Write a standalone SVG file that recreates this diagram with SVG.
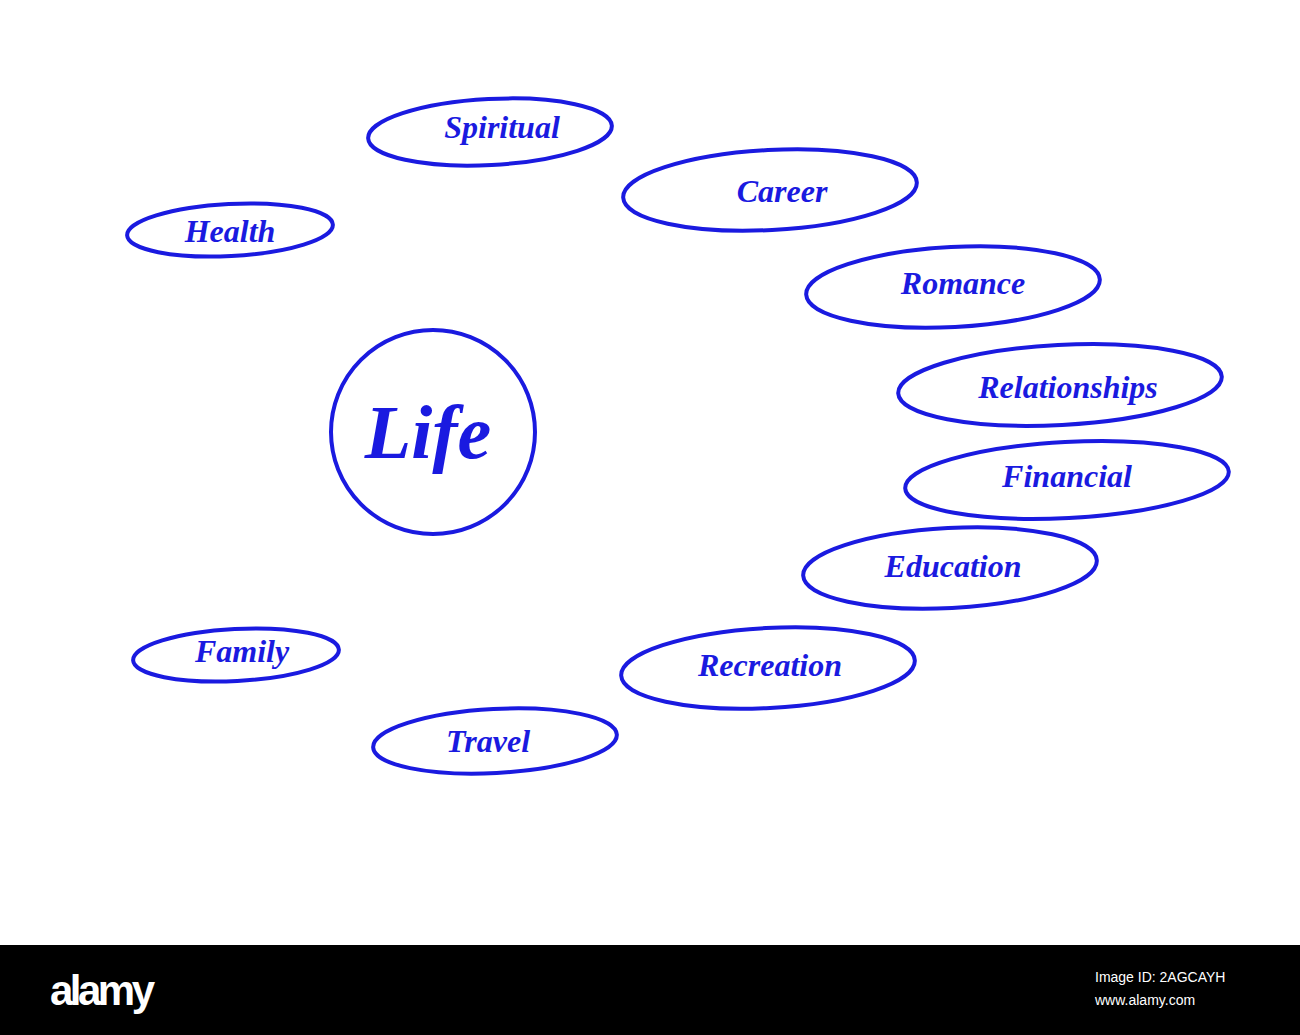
<svg xmlns="http://www.w3.org/2000/svg" width="1300" height="1035" viewBox="0 0 1300 1035">
<style>
.o{fill:none;stroke:#1a1ae0;stroke-width:4}
.t{font-family:"Liberation Serif",serif;font-style:italic;font-weight:bold;fill:#1a1ae0;font-size:32px;text-anchor:middle}
.w{fill:#fff;font-family:"Liberation Sans",sans-serif}
</style>
<rect width="1300" height="1035" fill="#fff"/>
<g id="life"><circle class="o" cx="433" cy="432" r="102"/><text class="t" x="428" y="458" style="font-size:76px">Life</text></g>
<g id="spiritual"><ellipse class="o" cx="490" cy="132" rx="122" ry="33" transform="rotate(-3 490 132)"/><text class="t" x="502" y="138">Spiritual</text></g>
<g id="career"><ellipse class="o" cx="770" cy="190" rx="147" ry="40" transform="rotate(-3 770 190)"/><text class="t" x="782" y="202">Career</text></g>
<g id="health"><ellipse class="o" cx="230" cy="230" rx="103" ry="26" transform="rotate(-3 230 230)"/><text class="t" x="230" y="242">Health</text></g>
<g id="romance"><ellipse class="o" cx="953" cy="287" rx="147" ry="40" transform="rotate(-3 953 287)"/><text class="t" x="963" y="294">Romance</text></g>
<g id="relationships"><ellipse class="o" cx="1060" cy="385" rx="162" ry="40" transform="rotate(-3 1060 385)"/><text class="t" x="1068" y="398">Relationships</text></g>
<g id="financial"><ellipse class="o" cx="1067" cy="480" rx="162" ry="38" transform="rotate(-3 1067 480)"/><text class="t" x="1067" y="487">Financial</text></g>
<g id="education"><ellipse class="o" cx="950" cy="568" rx="147" ry="40" transform="rotate(-3 950 568)"/><text class="t" x="953" y="577">Education</text></g>
<g id="family"><ellipse class="o" cx="236" cy="655" rx="103" ry="26" transform="rotate(-3 236 655)"/><text class="t" x="242" y="662">Family</text></g>
<g id="recreation"><ellipse class="o" cx="768" cy="668" rx="147" ry="40" transform="rotate(-3 768 668)"/><text class="t" x="770" y="676">Recreation</text></g>
<g id="travel"><ellipse class="o" cx="495" cy="741" rx="122" ry="32" transform="rotate(-3 495 741)"/><text class="t" x="488" y="752">Travel</text></g>
<g id="connectors"/>
<rect x="0" y="945" width="1300" height="90" fill="#000"/>
<text class="w" x="50" y="1005" font-size="42" font-weight="bold" textLength="105">alamy</text>
<text class="w" x="1095" y="982" font-size="14">Image ID: 2AGCAYH</text>
<text class="w" x="1095" y="1005" font-size="14">www.alamy.com</text>
</svg>
